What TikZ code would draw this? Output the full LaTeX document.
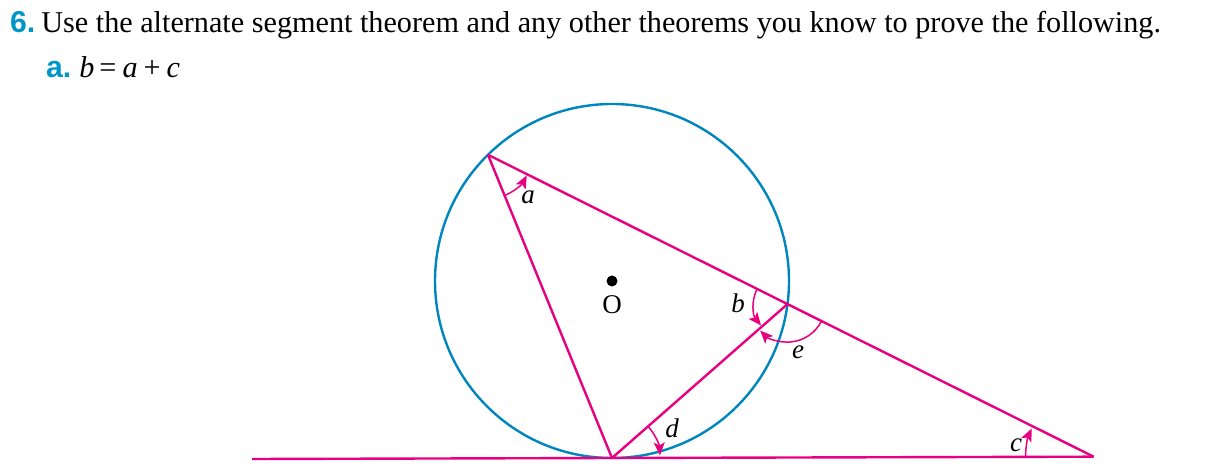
\documentclass[tikz,border=0pt]{standalone}
\usepackage{fontspec}
\setmainfont{Liberation Serif}
\setsansfont{Liberation Sans}
\usetikzlibrary{arrows.meta}
\definecolor{circblue}{RGB}{0,134,190}
\definecolor{linepink}{RGB}{232,0,128}
\definecolor{numcyan}{RGB}{0,150,200}
\begin{document}
\begin{tikzpicture}[x=1pt, y=1pt,
	line/.style={linepink, line width=2.4pt},
	anglearc/.style={linepink, line width=1.5pt, -{Stealth[length=13pt, width=11pt, inset=3pt]}},
	lbl/.style={font=\fontsize{27}{30}\selectfont\itshape}]
	\useasboundingbox (0, 0) rectangle (1225, 471);
	\node[anchor=base west, inner sep=0pt, font=\fontsize{30.2}{34}\selectfont] (q) at (10, 438)
		{\textcolor{numcyan}{\sffamily\bfseries 6.}\hspace{6pt}Use the alternate segment theorem and any other theorems you know to prove the following.};
	\node[anchor=base west, inner sep=0pt, font=\fontsize{30.2}{34}\selectfont] (qa) at (46, 393)
		{\textcolor{numcyan}{\sffamily\bfseries a.}\hspace{8pt}\textit{b}\hspace{5pt}=\hspace{6pt}\textit{a}\hspace{6pt}+\hspace{6pt}\textit{c}};

	\coordinate (O) at (612, 190);
	\coordinate (A) at ([shift=(134.5:177)]O);
	\coordinate (B) at ([shift=(-7.5:177)]O);
	\coordinate (T) at ([shift=(-90:177)]O);
	\coordinate (L) at (252, 12);
	\coordinate (C) at (intersection of A--B and T--L);

	\draw[circblue, line width=2.4pt] (O) circle[radius=177];
	\fill (O) circle[radius=5.5];
	\node[font=\fontsize{27}{30}\selectfont] (Olbl) at (612, 166) {O};

	\draw[line] (L) -- (C);
	\draw[line] (A) -- (C);
	\draw[line] (A) -- (T);
	\draw[line] (T) -- (B);

	% angle marks
	\draw[anglearc] ([shift=(-67.8:44)]A) arc[start angle=-67.8, end angle=-28, radius=44];
	\draw[anglearc] ([shift=(153.5:34)]B) arc[start angle=153.5, end angle=219, radius=34];
	\draw[anglearc] ([shift=(-26.5:38)]B) arc[start angle=-26.5, end angle=-136, radius=38];
	\draw[anglearc] ([shift=(41.5:48)]T) arc[start angle=41.5, end angle=3, radius=48];
	\draw[anglearc] ([shift=(180:68)]C) arc[start angle=180, end angle=155.5, radius=68];

	\node[lbl] (la) at (528, 274) {a};
	\node[lbl] (lb) at (738, 168) {b};
	\node[lbl] (le) at (798, 119) {e};
	\node[lbl] (ld) at (672, 43) {d};
	\node[lbl] (lc) at (1016, 26) {c};
\end{tikzpicture}
\end{document}
